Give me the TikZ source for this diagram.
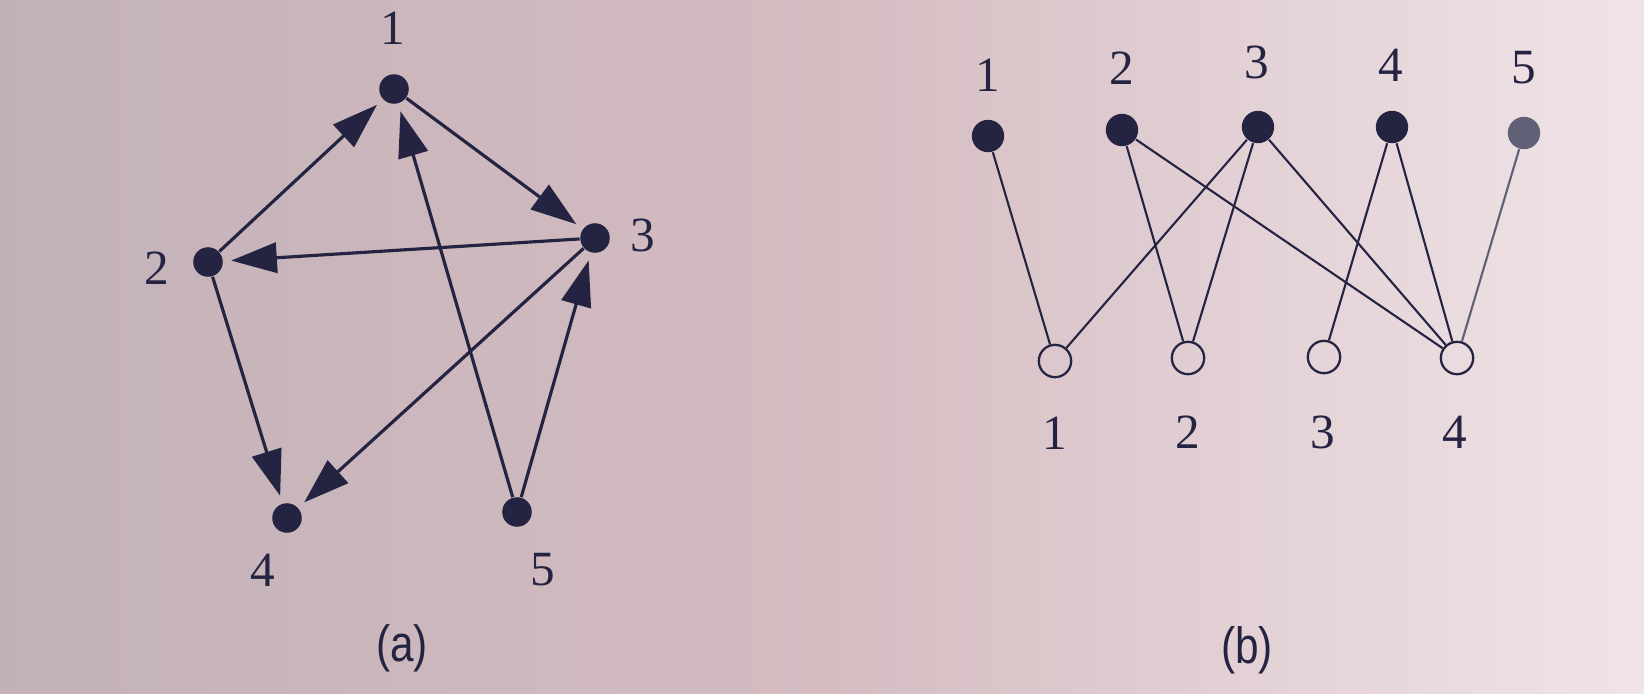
\documentclass[tikz,border=0pt]{standalone}
\usepackage{fontspec}
\setmainfont{Liberation Serif}
\newfontfamily\capfont{Liberation Sans}
\usetikzlibrary{arrows.meta}
\definecolor{ink}{RGB}{36,36,66}
\definecolor{inkgray}{RGB}{95,95,118}
\definecolor{bgleft}{RGB}{194,178,184}
\definecolor{bgmid}{RGB}{212,188,193}
\definecolor{bgright}{RGB}{240,228,231}
\begin{document}
\begin{tikzpicture}[x=0.01cm,y=-0.01cm,
  dot/.style={circle,fill=ink,inner sep=0pt,minimum size=8.4pt},
  topdot/.style={circle,fill=ink,inner sep=0pt,minimum size=9.2pt},
  opendot/.style={circle,draw=ink,line width=0.65pt,inner sep=0pt,minimum size=9.2pt},
  num/.style={font=\fontsize{14}{14}\selectfont,text=ink,inner sep=0pt},
  captxt/.style={font=\capfont\fontsize{14.5}{14.5}\selectfont,text=ink,inner sep=0pt,xscale=0.83},
  arr/.style={-{Triangle[length=13pt,width=8.6pt]},line width=0.9pt,draw=ink,shorten >=2.2pt},
  bed/.style={line width=0.6pt,draw=ink}]
\useasboundingbox (0,0) rectangle (1644,694);
\shade[left color=bgleft,right color=bgright,middle color=bgmid] (0,0) rectangle (1644,694);
% ---------- (a) ----------
\node[dot] (a1) at (394,89) {};
\node[dot] (a2) at (208,262) {};
\node[dot] (a3) at (595,238) {};
\node[dot] (a4) at (287,518) {};
\node[dot] (a5) at (517,512) {};
\node[num] (la1) at (393,28) {1};
\node[num] (la2) at (157,268) {2};
\node[num] (la3) at (643,235) {3};
\node[num] (la4) at (263,570) {4};
\node[num] (la5) at (543,570) {5};
\node[captxt] (capa) at (402,648) {(a)};
\draw[arr] (a2) -- (a1);
\draw[arr] (a1) -- (a3);
\draw[arr] (a3) -- (a2);
\draw[arr] (a2) -- (a4);
\draw[arr] (a3) -- (a4);
\draw[arr] (a5) -- (a1);
\draw[arr] (a5) -- (a3);
% ---------- (b) ----------
\node[topdot] (t1) at (988,136) {};
\node[topdot] (t2) at (1122,130) {};
\node[topdot] (t3) at (1258,127) {};
\node[topdot] (t4) at (1392,127) {};
\node[topdot,fill=inkgray] (t5) at (1524,133) {};
\node[opendot] (b1) at (1055,361) {};
\node[opendot] (b2) at (1188,358) {};
\node[opendot] (b3) at (1324,357) {};
\node[opendot] (b4) at (1457,358) {};
\node[num] (lt1) at (988,75) {1};
\node[num] (lt2) at (1122,68) {2};
\node[num] (lt3) at (1257,62) {3};
\node[num] (lt4) at (1391,65) {4};
\node[num] (lt5) at (1524,68) {5};
\node[num] (lb1) at (1055,433) {1};
\node[num] (lb2) at (1188,432) {2};
\node[num] (lb3) at (1323,432) {3};
\node[num] (lb4) at (1455,432) {4};
\node[captxt] (capb) at (1247,650) {(b)};
\draw[bed] (t1) -- (b1);
\draw[bed] (t3) -- (b1);
\draw[bed] (t2) -- (b2);
\draw[bed] (t3) -- (b2);
\draw[bed] (t4) -- (b3);
\draw[bed] (t2) -- (b4);
\draw[bed] (t3) -- (b4);
\draw[bed] (t4) -- (b4);
\draw[bed,draw=inkgray] (t5) -- (b4);
\end{tikzpicture}
\end{document}
